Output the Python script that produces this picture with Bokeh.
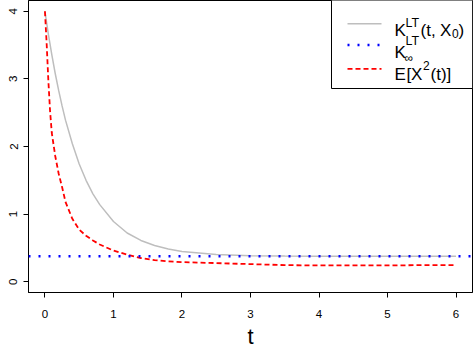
from bokeh.plotting import figure
from bokeh.models import Range1d, FixedTicker, Span, Label
from bokeh.embed import file_html
from bokeh.resources import INLINE

# ---- data ----
t = [0, 0.025, 0.05, 0.075, 0.1, 0.15, 0.2, 0.25, 0.3, 0.4, 0.5, 0.6, 0.7, 0.8,
     1.0, 1.2, 1.4, 1.6, 1.8, 2.0, 2.5, 3.0, 3.5, 4.0, 4.5, 5.0, 5.5, 6.0]
k_lt = [4.00, 3.83, 3.66, 3.51, 3.36, 3.08, 2.83, 2.60, 2.39, 2.04, 1.74, 1.50, 1.30, 1.14,
        0.89, 0.72, 0.61, 0.535, 0.484, 0.448, 0.403, 0.385, 0.379, 0.376, 0.375, 0.375, 0.375, 0.375]
e_x2 = [4.00, 3.52, 2.97, 2.52, 2.20, 1.86, 1.60, 1.40, 1.18, 0.93, 0.77, 0.68, 0.61, 0.55,
        0.46, 0.40, 0.35, 0.32, 0.30, 0.29, 0.275, 0.26, 0.245, 0.24, 0.24, 0.24, 0.245, 0.245]
K_INF = 0.375
x_ticks = [0, 1, 2, 3, 4, 5, 6]
y_ticks = [0, 1, 2, 3, 4]
x_label = "t"

# ---- figure ----
X0, X1 = -0.24, 6.24
Y0, Y1 = -0.16, 4.16
W, H = 474, 352
FL, FR, FT, FB = 28, 472, 0, 292

p = figure(width=W, height=H, x_range=Range1d(X0, X1), y_range=Range1d(Y0, Y1),
           output_backend="svg", toolbar_location=None,
           min_border_left=FL, min_border_right=W - FR, min_border_top=FT,
           min_border_bottom=H - FB)
p.background_fill_color = "white"
p.border_fill_color = "white"
p.outline_line_color = "black"
p.outline_line_width = 1
p.xgrid.visible = False
p.ygrid.visible = False

for ax in (p.xaxis[0], p.yaxis[0]):
    ax.minor_tick_line_color = None
    ax.major_tick_in = 0
    ax.major_tick_out = 5
    ax.major_tick_line_color = "black"
    ax.axis_line_color = "black"
    ax.major_label_text_font = "Liberation Sans"
    ax.major_label_text_font_size = "11.5px"
    ax.major_label_text_color = "black"

p.xaxis.ticker = FixedTicker(ticks=x_ticks)
p.yaxis.ticker = FixedTicker(ticks=y_ticks)
p.xaxis.major_label_standoff = 12
p.yaxis.major_label_standoff = 6
p.yaxis.major_label_orientation = "vertical"
p.xaxis.axis_label = x_label
p.xaxis.axis_label_text_font = "Liberation Sans"
p.xaxis.axis_label_text_font_size = "22px"
p.xaxis.axis_label_text_font_style = "normal"
p.xaxis.axis_label_text_color = "black"
p.xaxis.axis_label_standoff = 3

DOT = "2 8"
DASH = "5 3"

# ---- series ----
p.line(t, k_lt, line_color="#bebebe", line_width=1.5)
p.add_layout(Span(location=K_INF, dimension="width", line_color="blue",
                  line_width=2.5, line_dash=DOT))
p.line(t, e_x2, line_color="red", line_width=1.8, line_dash=DASH)

# ---- manual legend (pixel positions converted to data coords) ----
def dx(px):
    return X0 + (px - FL) / (FR - FL) * (X1 - X0)

def dy(py):
    return Y1 - (py - FT) / (FB - FT) * (Y1 - Y0)

p.quad(left=[dx(331)], right=[dx(472)], top=[dy(-3)], bottom=[dy(88)],
       fill_color="white", line_color="black", line_width=1)

p.line([dx(347), dx(381)], [dy(23.3)] * 2, line_color="#bebebe", line_width=1.5)
p.line([dx(347), dx(381)], [dy(44.5)] * 2, line_color="blue", line_width=2.5,
       line_dash=DOT)
p.line([dx(347), dx(381)], [dy(68.3)] * 2, line_color="red", line_width=1.8,
       line_dash=DASH)

segments = [
    ("K", 394, 29.5, 17), ("LT", 405, 22.0, 12.5), ("(t,", 420, 29.5, 17),
    ("X", 439.5, 29.5, 17), ("0", 451.5, 33.0, 12), (")", 458, 29.5, 17),
    ("K", 394, 51.5, 17), ("LT", 405, 40.0, 12.5), ("\u221e", 404, 57.0, 12),
    ("E", 394, 73.5, 17), ("[", 406, 73.5, 17), ("X", 410.5, 73.5, 17),
    ("2", 422.5, 65.0, 12), ("(t)]", 430, 73.5, 17),
]
for txt, px, py, size in segments:
    p.add_layout(Label(x=dx(px), y=dy(py), text=txt, text_font="Liberation Sans",
                       text_font_size=f"{size}px", text_color="black",
                       text_align="left", text_baseline="alphabetic"))

open("out.html", "w").write(file_html(p, INLINE))
